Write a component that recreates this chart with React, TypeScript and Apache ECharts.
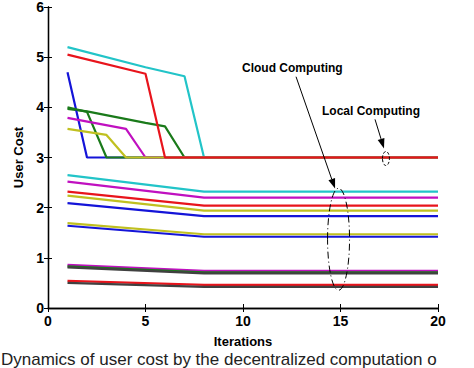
import React, { useEffect, useRef } from "react";
import * as echarts from "echarts";

// Local computing users (vertices)
const localCyanX = [1, 5, 7, 8, 20];
const localCyanY = [5.2, 4.8, 4.62, 3, 3];
const localGreen2X = [1, 2, 5, 6, 7, 20];
const localGreen2Y = [3.97, 3.92, 3.69, 3.62, 3, 3];
const localBlueX = [1, 2, 20];
const localBlueY = [4.7, 3, 3];
const localGreen1X = [1, 2, 3, 20];
const localGreen1Y = [4.0, 3.91, 3, 3];
const localMagentaX = [1, 4, 5, 20];
const localMagentaY = [3.79, 3.57, 3, 3];
const localYellowX = [1, 3, 4, 20];
const localYellowY = [3.57, 3.45, 3, 3];
const localRedX = [1, 5, 6, 20];
const localRedY = [5.05, 4.67, 3, 3];

// Cloud computing users: value at iteration 1, at iteration 8 (then flat to 20)
const cloudX = [1, 8, 20];
const cloudStart = [2.65, 2.52, 2.32, 2.24, 2.09, 1.69, 1.64, 0.86, 0.83, 0.81, 0.54, 0.5];
const cloudEnd = [2.32, 2.2, 2.04, 1.94, 1.83, 1.47, 1.42, 0.74, 0.71, 0.69, 0.46, 0.42];
const cloudColors = ["#22c4c8", "#c010c0", "#e8141c", "#c0c020", "#1414d8", "#c0c020", "#1414d8", "#c010c0", "#1a7a1a", "#404040", "#e8141c", "#404040"];

const xTicks = { min: 0, max: 20, interval: 5 };
const yTicks = { min: 0, max: 6, interval: 1 };

const FONT = "Liberation Sans, Arial, sans-serif";

function pairs(xs: number[], ys: number[]) {
  return xs.map((x, i) => [x, ys[i]]);
}

export default function App() {
  const ref = useRef<HTMLDivElement>(null);
  useEffect(() => {
    document.body.style.margin = "0";
    const chart = echarts.init(ref.current!, null, { renderer: "svg" });
    const lw = 2.2;
    const series: any[] = [];
    cloudStart.forEach((s, i) => {
      series.push({
        type: "line",
        data: pairs(cloudX, [s, cloudEnd[i], cloudEnd[i]]),
        showSymbol: false,
        lineStyle: { color: cloudColors[i], width: lw },
        z: 2,
      });
    });
    const locals: [number[], number[], string][] = [
      [localCyanX, localCyanY, "#22c4c8"],
      [localGreen2X, localGreen2Y, "#1a7a1a"],
      [localBlueX, localBlueY, "#1414d8"],
      [localGreen1X, localGreen1Y, "#1a7a1a"],
      [localMagentaX, localMagentaY, "#c010c0"],
      [localYellowX, localYellowY, "#c0c020"],
      [localRedX, localRedY, "#e8141c"],
    ];
    locals.forEach(([xs, ys, c], i) => {
      series.push({
        type: "line",
        data: pairs(xs, ys),
        showSymbol: false,
        lineStyle: { color: c, width: lw },
        z: 3 + i,
      });
    });
    const labelStyle = { color: "#000", fontFamily: FONT, fontWeight: "bold" as const, fontSize: 14 };
    chart.setOption({
      animation: false,
      grid: { left: 48, right: 36, top: 5, bottom: 60 },
      xAxis: [
        {
          type: "value", ...xTicks, position: "bottom",
          name: "Iterations", nameLocation: "middle", nameGap: 27,
          nameTextStyle: { color: "#000", fontFamily: FONT, fontWeight: "bold", fontSize: 13 },
          axisLine: { lineStyle: { color: "#000", width: 1.3 } },
          axisTick: { inside: true, length: 4, lineStyle: { color: "#000" } },
          axisLabel: { ...labelStyle, margin: 6 },
          splitLine: { show: false },
        },
        {
          type: "value", ...xTicks, position: "top",
          axisLine: { show: true, lineStyle: { color: "#000", width: 1.3 } },
          axisTick: { inside: true, length: 4, lineStyle: { color: "#000" } },
          axisLabel: { show: false },
          splitLine: { show: false },
        },
      ],
      yAxis: [
        {
          type: "value", ...yTicks, position: "left",
          name: "User Cost", nameLocation: "middle", nameGap: 14,
          nameTextStyle: { color: "#000", fontFamily: FONT, fontWeight: "bold", fontSize: 13 },
          axisLine: { show: true, lineStyle: { color: "#000", width: 1.3 } },
          axisTick: { show: true, inside: true, length: 4, lineStyle: { color: "#000" } },
          axisLabel: { ...labelStyle, margin: 4 },
          splitLine: { show: false },
        },
        {
          type: "value", ...yTicks, position: "right",
          axisLine: { show: true, lineStyle: { color: "#000", width: 1.3 } },
          axisTick: { show: true, inside: true, length: 4, lineStyle: { color: "#000" } },
          axisLabel: { show: false },
          splitLine: { show: false },
        },
      ],
      series,
    });

    const p = (x: number, y: number) => chart.convertToPixel({ xAxisIndex: 0, yAxisIndex: 0 }, [x, y]) as number[];
    const arrow = (a: number[], b: number[]) => {
      const [x1, y1] = p(a[0], a[1]);
      const [x2, y2] = p(b[0], b[1]);
      const ang = Math.atan2(y2 - y1, x2 - x1);
      const L = 10, W = 3.5;
      const bx = x2 - L * Math.cos(ang), by = y2 - L * Math.sin(ang);
      const nx = -Math.sin(ang) * W, ny = Math.cos(ang) * W;
      return [
        { type: "line", shape: { x1, y1, x2: bx, y2: by }, style: { stroke: "#000", lineWidth: 1 }, z: 20 },
        { type: "polygon", shape: { points: [[x2, y2], [bx + nx, by + ny], [bx - nx, by - ny]] }, style: { fill: "#000" }, z: 20 },
      ];
    };
    const big = p(14.9, 1.37);
    const small = p(17.33, 2.98);
    chart.setOption({
      graphic: [
        { type: "text", x: 242, y: 68, style: { text: "Cloud Computing", fill: "#000", font: `bold 12px ${FONT}`, textVerticalAlign: "middle" }, z: 20 },
        { type: "text", x: 322, y: 111, style: { text: "Local Computing", fill: "#000", font: `bold 12px ${FONT}`, textVerticalAlign: "middle" }, z: 20 },
        ...arrow([12.72, 4.61], [14.72, 2.38]),
        ...arrow([16.77, 3.76], [17.23, 3.18]),
        { type: "ellipse", shape: { cx: big[0], cy: big[1], rx: 11, ry: 51 }, style: { fill: "none", stroke: "#000", lineWidth: 1, lineDash: [7, 3, 1, 3] }, z: 20 },
        { type: "ellipse", shape: { cx: small[0], cy: small[1], rx: 3.5, ry: 7 }, style: { fill: "none", stroke: "#000", lineWidth: 1, lineDash: [3, 2] }, z: 20 },
        { type: "text", x: 1, y: 351, style: { text: "Dynamics of user cost by the decentralized computation o", fill: "#222", font: `17px ${FONT}`, textVerticalAlign: "top" }, z: 20 },
      ],
    });
    return () => chart.dispose();
  }, []);
  return <div ref={ref} style={{ width: 474, height: 368 }} />;
}
